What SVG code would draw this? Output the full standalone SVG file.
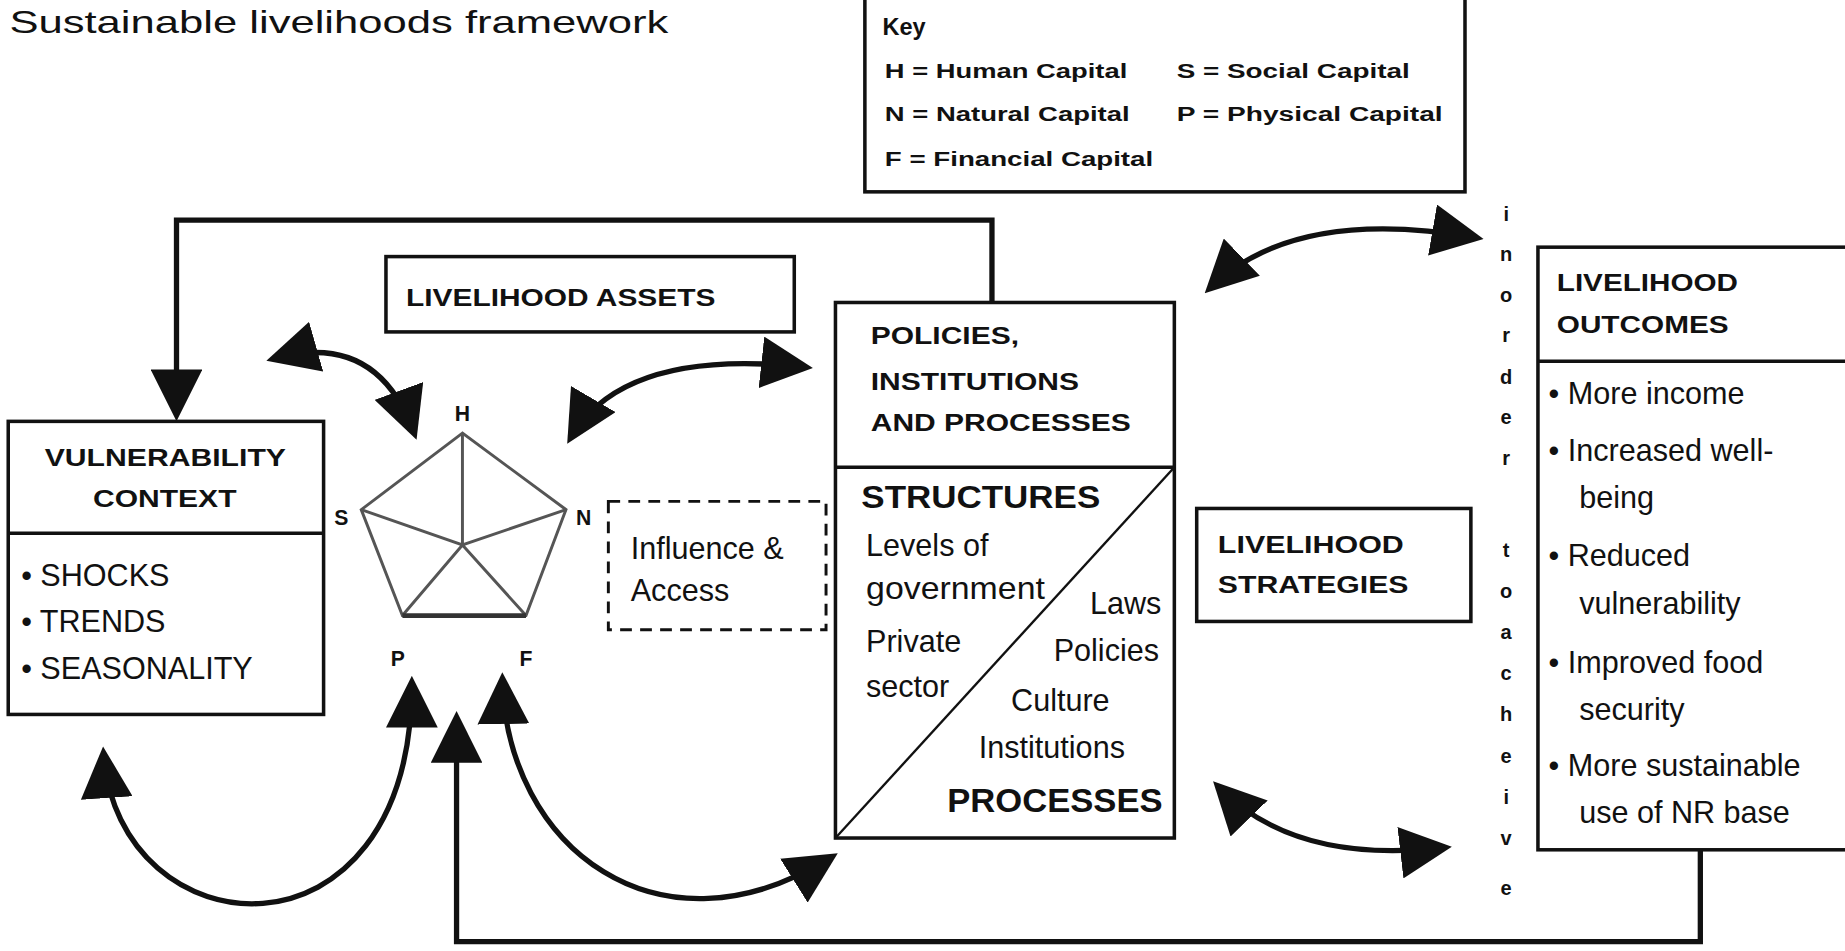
<svg xmlns="http://www.w3.org/2000/svg" width="1845" height="951" viewBox="0 0 1845 951">
<style>
text{font-family:"Liberation Sans",Arial,sans-serif;fill:#111}
.b{font-weight:bold}
.box{fill:#fff;stroke:#111;stroke-width:3}
.ln{fill:none;stroke:#111;stroke-width:4.5}
.pent{fill:none;stroke:#555;stroke-width:2.5}
.h{font-size:21px;font-weight:bold}
.k{font-size:17px;font-weight:bold}
.t{font-size:26px}
.v{font-size:17px;font-weight:bold;text-anchor:middle}
</style>
<defs>
<marker id="ah" markerUnits="userSpaceOnUse" markerWidth="44" markerHeight="44" viewBox="0 0 30 30" refX="26" refY="15" orient="auto-start-reverse">
<path d="M0,0 L30,15 L0,30 Z" fill="#111"/>
</marker>
</defs>
<rect width="1845" height="951" fill="#fff"/>
<g transform="scale(1.1767,1.177)">
<text x="8" y="28" style="font-size:26px" textLength="560" lengthAdjust="spacingAndGlyphs">Sustainable livelihoods framework</text>
<g id="key">
<rect class="box" x="735" y="-3" width="510" height="166"/>
<text class="k" x="750" y="30" style="font-size:20px">Key</text>
<text class="k" x="752" y="66" textLength="206" lengthAdjust="spacingAndGlyphs">H = Human Capital</text>
<text class="k" x="1000" y="66" textLength="198" lengthAdjust="spacingAndGlyphs">S = Social Capital</text>
<text class="k" x="752" y="103" textLength="208" lengthAdjust="spacingAndGlyphs">N = Natural Capital</text>
<text class="k" x="1000" y="103" textLength="226" lengthAdjust="spacingAndGlyphs">P = Physical Capital</text>
<text class="k" x="752" y="141" textLength="228" lengthAdjust="spacingAndGlyphs">F = Financial Capital</text>
</g>
<g id="connectors">
<path class="ln" d="M843 257 V187 H150 V352" marker-end="url(#ah)"/>
<path class="ln" d="M1445 722 V800 H388 V610" marker-end="url(#ah)"/>
<path class="ln" d="M232 305 Q320 280 352 368" marker-start="url(#ah)" marker-end="url(#ah)"/>
<path class="ln" d="M485 372 Q530 295 685 312" marker-start="url(#ah)" marker-end="url(#ah)"/>
<path class="ln" d="M1028 245 Q1100 175 1255 202" marker-start="url(#ah)" marker-end="url(#ah)"/>
<path class="ln" d="M1035 668 Q1100 735 1228 720" marker-start="url(#ah)" marker-end="url(#ah)"/>
<path class="ln" d="M88 640 C100 810 350 830 350 580" marker-start="url(#ah)" marker-end="url(#ah)"/>
<path class="ln" d="M427 577 C430 720 560 820 707 728" marker-start="url(#ah)" marker-end="url(#ah)"/>
</g>
<g id="assets">
<rect class="box" x="328" y="218" width="347" height="64"/>
<text class="h" x="345" y="260" textLength="263" lengthAdjust="spacingAndGlyphs">LIVELIHOOD ASSETS</text>
</g>
<g id="vulnerability">
<rect class="box" x="7" y="358" width="268" height="249"/>
<line class="box" x1="7" y1="453" x2="275" y2="453"/>
<text class="h" x="38" y="396" textLength="205" lengthAdjust="spacingAndGlyphs">VULNERABILITY</text>
<text class="h" x="79" y="431" textLength="122" lengthAdjust="spacingAndGlyphs">CONTEXT</text>
<text class="t" x="18" y="498">• SHOCKS</text>
<text class="t" x="18" y="537">• TRENDS</text>
<text class="t" x="18" y="577">• SEASONALITY</text>
</g>
<g id="pentagon">
<polygon class="pent" points="393,368 307,433 342,523 447,523 481,433"/>
<path class="pent" d="M393 368 V463 M307 433 L393 463 L481 433 M342 523 L393 463 L447 523"/>
<line x1="342" y1="523" x2="447" y2="523" stroke="#333" stroke-width="4"/>
<text class="k" x="393" y="358" text-anchor="middle" style="font-size:18px">H</text>
<text class="k" x="290" y="446" text-anchor="middle" style="font-size:18px">S</text>
<text class="k" x="496" y="446" text-anchor="middle" style="font-size:18px">N</text>
<text class="k" x="338" y="566" text-anchor="middle" style="font-size:18px">P</text>
<text class="k" x="447" y="566" text-anchor="middle" style="font-size:18px">F</text>
</g>
<g id="influence">
<rect x="517" y="426" width="185" height="109" fill="none" stroke="#111" stroke-width="2.5" stroke-dasharray="10,7"/>
<text class="t" x="536" y="475">Influence &amp;</text>
<text class="t" x="536" y="511">Access</text>
</g>
<g id="pip">
<rect class="box" x="710" y="257" width="288" height="455"/>
<line class="box" x1="710" y1="397" x2="998" y2="397"/>
<line class="box" x1="998" y1="397" x2="710" y2="712" style="stroke-width:2"/>
<text class="h" x="740" y="292" textLength="126" lengthAdjust="spacingAndGlyphs">POLICIES,</text>
<text class="h" x="740" y="331" textLength="177" lengthAdjust="spacingAndGlyphs">INSTITUTIONS</text>
<text class="h" x="740" y="366" textLength="221" lengthAdjust="spacingAndGlyphs">AND PROCESSES</text>
<text class="b" x="732" y="432" style="font-size:27px" textLength="203" lengthAdjust="spacingAndGlyphs">STRUCTURES</text>
<text class="t" x="736" y="472">Levels of</text>
<text class="t" x="736" y="509" textLength="152" lengthAdjust="spacingAndGlyphs">government</text>
<text class="t" x="736" y="554">Private</text>
<text class="t" x="736" y="592">sector</text>
<text class="t" x="987" y="522" text-anchor="end">Laws</text>
<text class="t" x="985" y="562" text-anchor="end">Policies</text>
<text class="t" x="943" y="604" text-anchor="end">Culture</text>
<text class="t" x="956" y="644" text-anchor="end">Institutions</text>
<text class="b" x="988" y="690" text-anchor="end" style="font-size:28px" textLength="183" lengthAdjust="spacingAndGlyphs">PROCESSES</text>
</g>
<g id="strategies">
<rect class="box" x="1017" y="432" width="233" height="96"/>
<text class="h" x="1035" y="470" textLength="158" lengthAdjust="spacingAndGlyphs">LIVELIHOOD</text>
<text class="h" x="1035" y="504" textLength="162" lengthAdjust="spacingAndGlyphs">STRATEGIES</text>
</g>
<g id="vertical">
<text class="v" x="1280" y="188">i</text>
<text class="v" x="1280" y="222">n</text>
<text class="v" x="1280" y="257">o</text>
<text class="v" x="1280" y="291">r</text>
<text class="v" x="1280" y="326">d</text>
<text class="v" x="1280" y="360">e</text>
<text class="v" x="1280" y="395">r</text>
<text class="v" x="1280" y="473">t</text>
<text class="v" x="1280" y="508">o</text>
<text class="v" x="1280" y="543">a</text>
<text class="v" x="1280" y="578">c</text>
<text class="v" x="1280" y="613">h</text>
<text class="v" x="1280" y="648">e</text>
<text class="v" x="1280" y="683">i</text>
<text class="v" x="1280" y="718">v</text>
<text class="v" x="1280" y="760">e</text>
</g>
<g id="outcomes">
<rect class="box" x="1307" y="210" width="270" height="512"/>
<line class="box" x1="1307" y1="307" x2="1577" y2="307"/>
<text class="h" x="1323" y="247" textLength="154" lengthAdjust="spacingAndGlyphs">LIVELIHOOD</text>
<text class="h" x="1323" y="283" textLength="146" lengthAdjust="spacingAndGlyphs">OUTCOMES</text>
<text class="t" x="1316" y="343">• More income</text>
<text class="t" x="1316" y="392">• Increased well-</text>
<text class="t" x="1342" y="432">being</text>
<text class="t" x="1316" y="481">• Reduced</text>
<text class="t" x="1342" y="522">vulnerability</text>
<text class="t" x="1316" y="572">• Improved food</text>
<text class="t" x="1342" y="612">security</text>
<text class="t" x="1316" y="659">• More sustainable</text>
<text class="t" x="1342" y="699">use of NR base</text>
</g>
</g>
</svg>
